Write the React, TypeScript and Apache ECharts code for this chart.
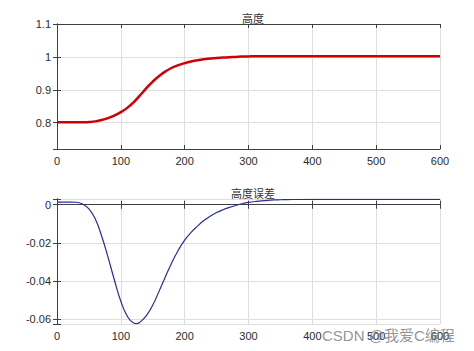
import React, { useEffect, useRef } from "react";
import * as echarts from "echarts";

const heightT = [0, 10, 20, 30, 40, 50, 60, 70, 80, 90, 100, 110, 120, 130, 140, 150, 160, 170, 180, 190, 200, 210, 220, 230, 240, 250, 260, 270, 280, 290, 300, 310, 320, 330, 340, 350, 400, 450, 500, 550, 600];
const heightV = [0.801, 0.801, 0.801, 0.801, 0.801, 0.802, 0.804, 0.808, 0.814, 0.822, 0.832, 0.845, 0.862, 0.883, 0.905, 0.925, 0.942, 0.956, 0.967, 0.975, 0.981, 0.986, 0.990, 0.993, 0.995, 0.997, 0.998, 0.999, 1.000, 1.001, 1.0015, 1.002, 1.002, 1.002, 1.002, 1.002, 1.002, 1.002, 1.002, 1.002, 1.002];

const errT = [0, 10, 20, 30, 40, 50, 60, 70, 80, 90, 100, 110, 120, 125, 130, 140, 150, 160, 170, 180, 190, 200, 210, 220, 230, 240, 250, 260, 270, 280, 290, 300, 310, 320, 330, 340, 350, 360, 400, 450, 500, 550, 600];
const errV = [0.0014, 0.0014, 0.0014, 0.0013, 0.0004, -0.0022, -0.0075, -0.0165, -0.0275, -0.0395, -0.0505, -0.0582, -0.0619, -0.0622, -0.0614, -0.058, -0.0525, -0.0452, -0.0375, -0.0302, -0.0238, -0.0185, -0.0145, -0.0112, -0.0083, -0.006, -0.0041, -0.0026, -0.0014, -0.0004, 0.0005, 0.0012, 0.0017, 0.002, 0.0023, 0.0025, 0.0026, 0.0027, 0.0028, 0.0028, 0.0028, 0.0028, 0.0028];

const xTicks = [0, 100, 200, 300, 400, 500, 600];
const titles = ["高度", "高度误差"];
const watermark = "CSDN @我爱C编程";

const FONT = "'Liberation Sans', Arial, 'Noto Sans CJK SC', sans-serif";
const AXIS_COLOR = "#404040";
const LABEL_COLOR = "#2b2b2b";

export default function App() {
  const ref = useRef<HTMLDivElement>(null);
  useEffect(() => {
    if (!ref.current) return;
    const chart = echarts.init(ref.current, null, { renderer: "svg" });
    const axisLine = { show: true, lineStyle: { color: AXIS_COLOR, width: 1 } };
    const tick = { show: true, inside: true, length: 4, lineStyle: { color: AXIS_COLOR } };
    const split = { show: true, lineStyle: { color: "#dedede", width: 1 } };
    const xBase = (gi: number, pos: string, labels: boolean) => ({
      type: "value",
      gridIndex: gi,
      position: pos,
      min: xTicks[0],
      max: xTicks[xTicks.length - 1],
      interval: 100,
      axisLine,
      axisTick: tick,
      splitLine: labels ? split : { show: false },
      axisLabel: labels
        ? { show: true, color: LABEL_COLOR, fontSize: 11, fontFamily: FONT, margin: 6 }
        : { show: false },
    });
    const fmt1 = (v: number) => (Math.abs(v * 10 - Math.round(v * 10)) < 1e-6 ? String(+v.toFixed(1)) : "");
    const fmt2 = (v: number) => (Math.abs(v * 50 - Math.round(v * 50)) < 1e-6 ? String(+v.toFixed(2)) : "");
    const yBase = (gi: number, pos: string, labels: boolean, min: number, max: number, sn: number, fmt: any) => ({
      type: "value",
      gridIndex: gi,
      position: pos,
      min,
      max,
      splitNumber: sn,
      axisLine,
      axisTick: tick,
      splitLine: labels ? split : { show: false },
      axisLabel: labels
        ? { show: true, color: LABEL_COLOR, fontSize: 11, fontFamily: FONT, margin: 6, formatter: fmt }
        : { show: false },
    });
    chart.setOption({
      animation: false,
      backgroundColor: "#ffffff",
      title: [
        { text: titles[0], left: 248, top: 7, textAlign: "center", textStyle: { fontSize: 11, fontWeight: "normal", color: "#333", fontFamily: "'Noto Sans CJK SC', sans-serif" } },
        { text: titles[1], left: 248, top: 182, textAlign: "center", textStyle: { fontSize: 11, fontWeight: "normal", color: "#333", fontFamily: "'Noto Sans CJK SC', sans-serif" } },
      ],
      grid: [
        { left: 57, right: 34, top: 24, height: 125 },
        { left: 57, right: 34, top: 199, height: 125 },
      ],
      xAxis: [xBase(0, "bottom", true), xBase(0, "top", false), xBase(1, "bottom", true), xBase(1, "top", false)],
      yAxis: [
        yBase(0, "left", true, 0.72, 1.1, 4, fmt1),
        yBase(0, "right", false, 0.72, 1.1, 4, fmt1),
        yBase(1, "left", true, -0.0624, 0.003, 3, fmt2),
        yBase(1, "right", false, -0.0624, 0.003, 3, fmt2),
      ],
      series: [
        {
          type: "line",
          xAxisIndex: 0,
          yAxisIndex: 0,
          data: heightT.map((t, i) => [t, heightV[i]]),
          showSymbol: false,
          smooth: 0.5,
          lineStyle: { color: "#d00000", width: 2.5 },
        },
        {
          type: "line",
          xAxisIndex: 2,
          yAxisIndex: 2,
          data: errT.map((t, i) => [t, errV[i]]),
          showSymbol: false,
          smooth: 0.5,
          lineStyle: { color: "#2a2aa0", width: 1.2 },
        },
      ],
      graphic: [
        {
          type: "text",
          left: 322,
          top: 328,
          z: 100,
          style: { text: watermark, fontSize: 15, fontFamily: "'Liberation Sans', 'Noto Sans CJK SC', sans-serif", fill: "rgba(120,120,120,0.8)" },
        },
      ],
    });
    return () => chart.dispose();
  }, []);
  return <div ref={ref} style={{ position: "fixed", left: 0, top: 0, width: 474, height: 351 }} />;
}
